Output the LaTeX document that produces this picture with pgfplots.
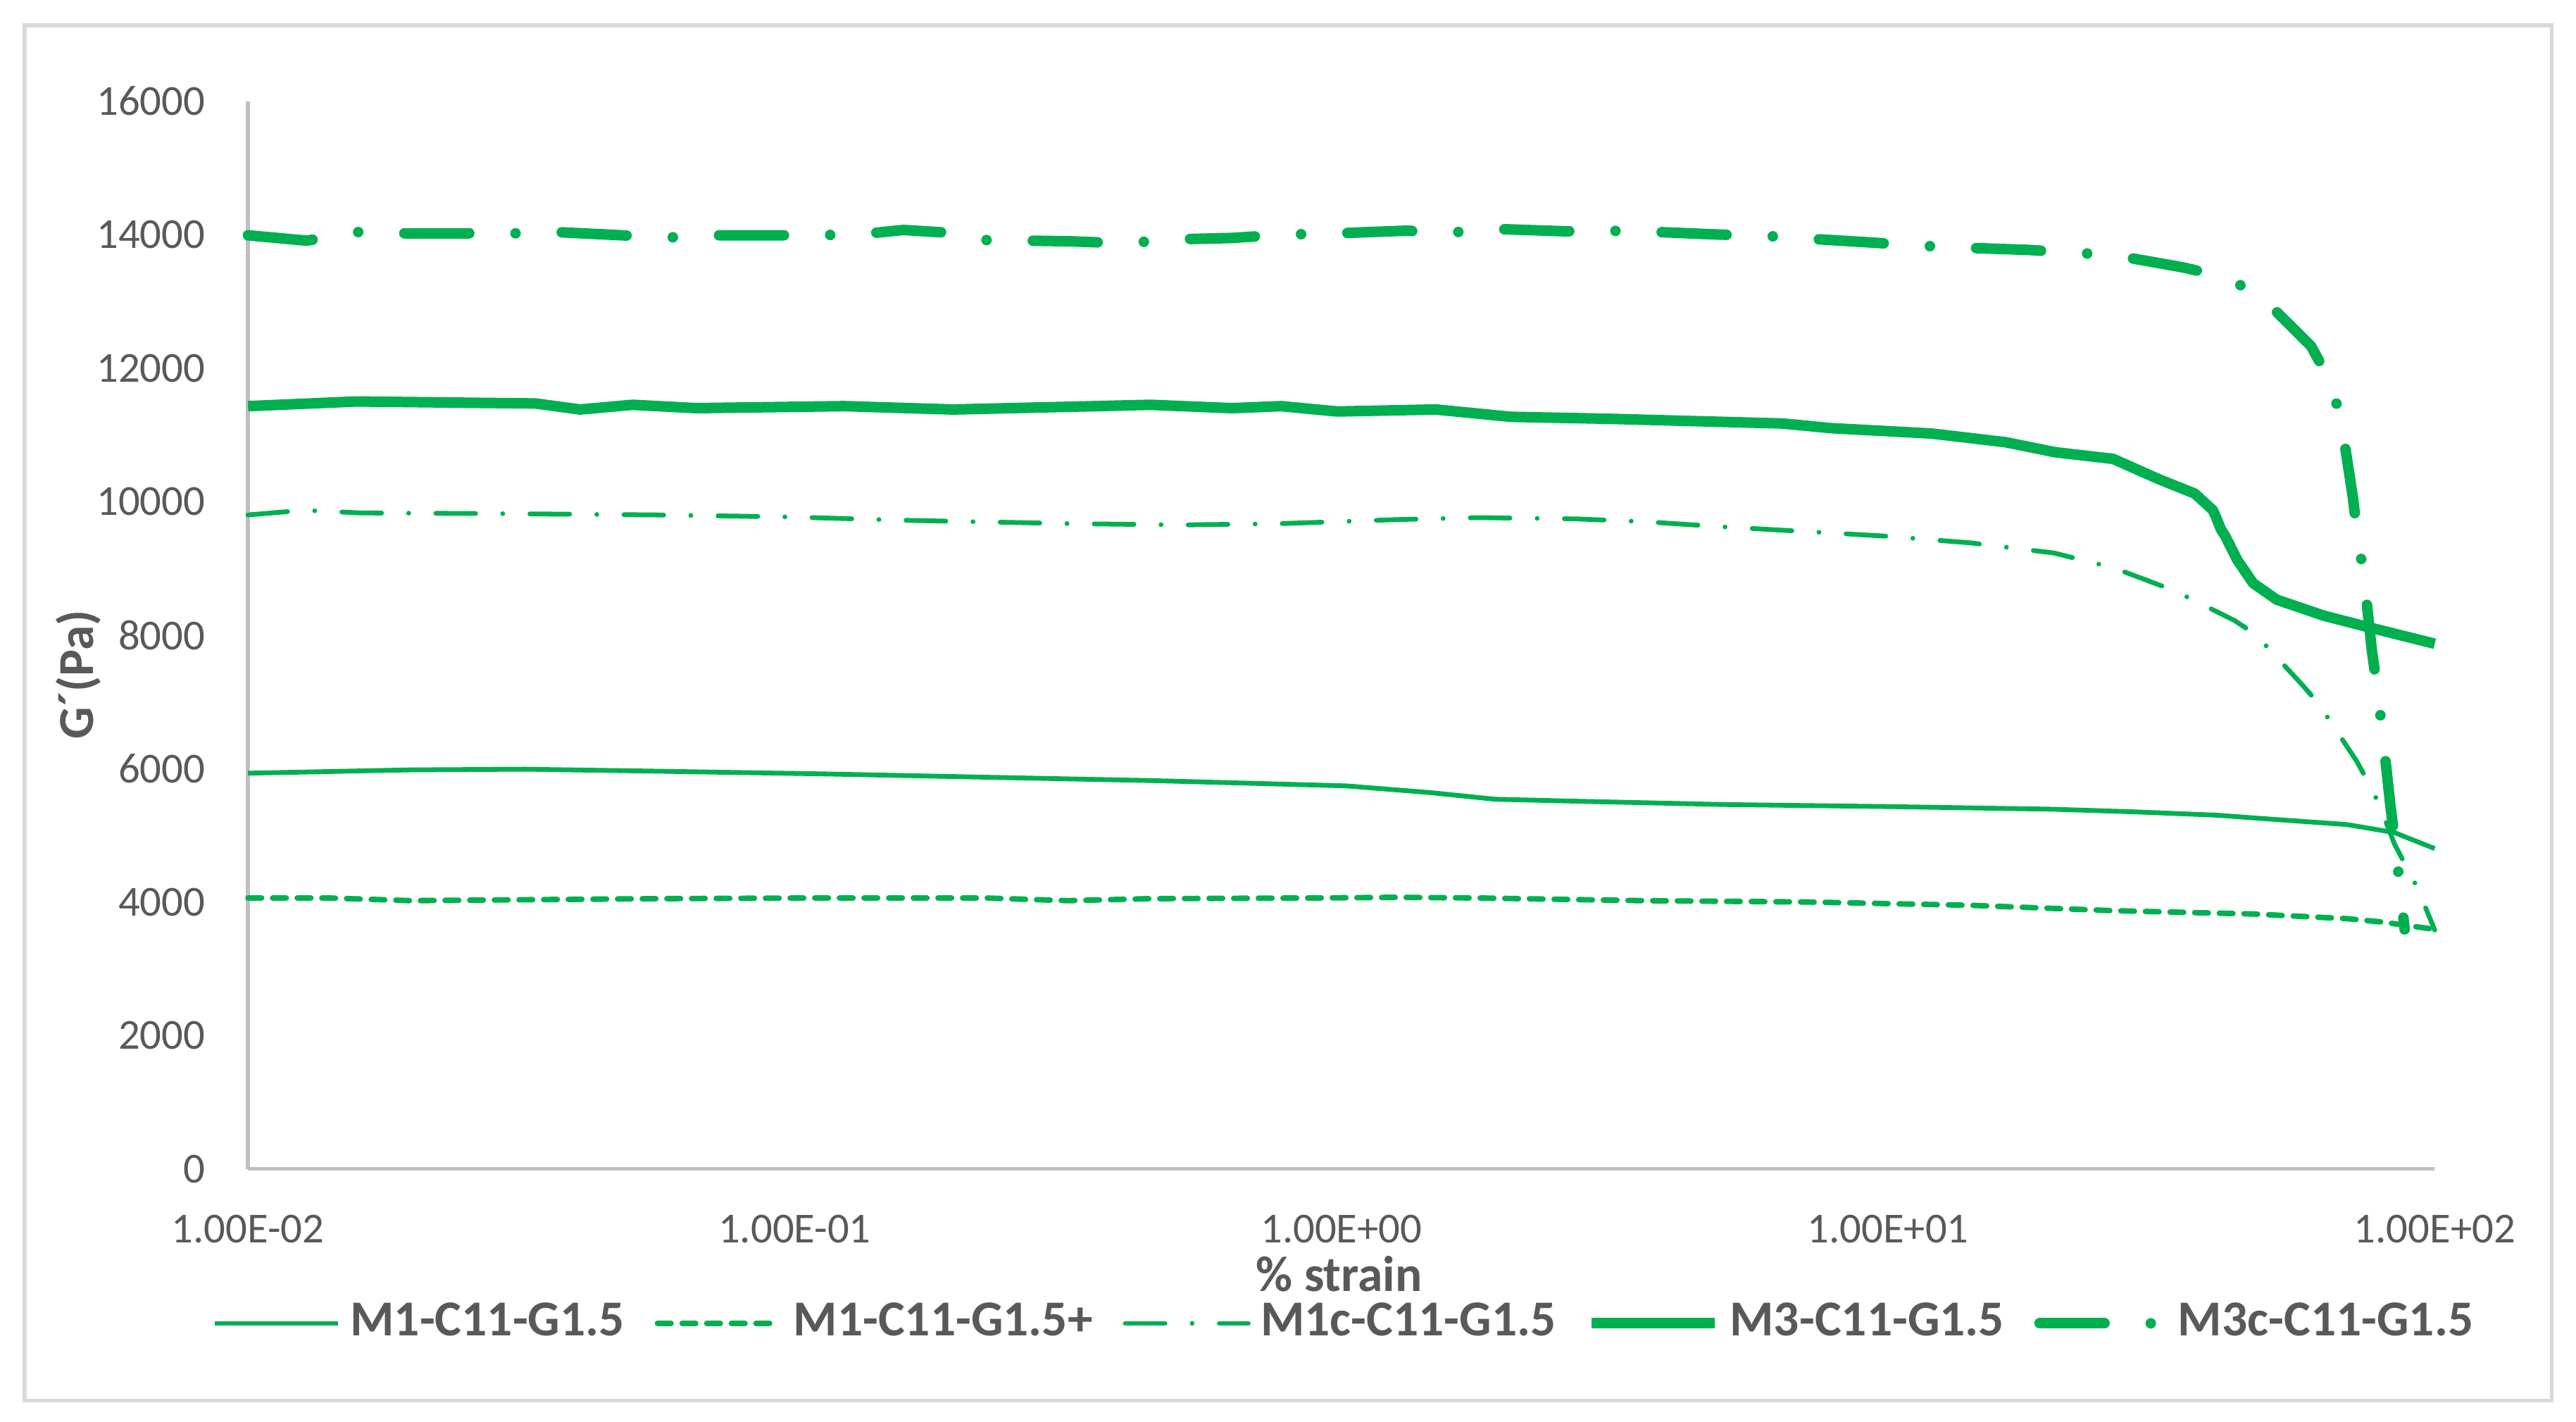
\documentclass[border=0pt]{standalone}
\usepackage{fontspec}
\setmainfont{Carlito}
\usepackage{pgfplots}
\pgfplotsset{compat=1.18}
\definecolor{exgreen}{RGB}{0,176,80}
\definecolor{txtgray}{RGB}{89,89,89}
\definecolor{axgray}{RGB}{191,191,191}
\definecolor{framegray}{RGB}{217,217,217}

\begin{document}
\begin{tikzpicture}
\useasboundingbox (0,0) rectangle (18cm,9.935cm);
\draw[framegray, line width=0.75pt] (0.172cm,0.149cm) rectangle (17.83cm,9.758cm);
\begin{axis}[
    at={(1.733cm,1.768cm)}, anchor=south west,
    scale only axis, width=15.28cm, height=7.46cm,
    xmode=log, xmin=0.01, xmax=100,
    ymin=0, ymax=16000,
    axis lines*=left,
    axis line style={axgray, line width=0.75pt},
    major tick length=0pt, minor tick length=0pt,
    xtick={0.01,0.1,1,10,100},
    xticklabels={1.00E-02,1.00E-01,1.00E+00,1.00E+01,1.00E+02},
    ytick={0,2000,...,16000},
    scaled y ticks=false,
    /pgf/number format/1000 sep={},
    /pgf/number format/assume math mode=true,
    tick label style={font=\fontsize{8.5}{10}\selectfont, text=txtgray},
    yticklabel style={xshift=-5pt},
    xticklabel style={yshift=-5.6pt},
    xlabel={\% strain},
    ylabel={G´(Pa)},
    label style={font=\bfseries\fontsize{10}{12}\selectfont, text=txtgray},
    xlabel style={at={(axis description cs:0.499,-0.0985)}, anchor=center},
    ylabel style={at={(axis description cs:-0.0774,0.463)}, anchor=center},
    legend columns=5,
    legend style={at={(axis description cs:0.503,-0.1446)}, anchor=center,
        draw=none, fill=none, font=\bfseries\fontsize{10}{12}\selectfont, text=txtgray,
        /tikz/every even column/.append style={column sep=0.14cm}},
    legend image code/.code={\draw[#1] (0cm,0cm) -- (0.86cm,0cm);},
    clip=false,
    every axis plot/.append style={exgreen, line join=round},
]
% M1-C11-G1.5
\addplot[line width=0.95pt] coordinates {
(0.01,5930) (0.0199,5980) (0.0322,5990) (0.056,5960) (0.112,5920) (0.223,5870)
(0.447,5820) (0.676,5780) (1.02,5740) (1.45,5640) (1.91,5540) (2.70,5510)
(5.03,5460) (10.0,5430) (20.1,5390) (28.4,5350) (40.1,5300) (46.6,5260)
(69.2,5160) (84.4,5040) (100,4800)};
\addlegendentry{M1-C11-G1.5}
% M1-C11-G1.5+
\addplot[line width=1.1pt, line cap=round, dash pattern=on 2.7pt off 2.2pt] coordinates {
(0.01,4060) (0.014,4060) (0.0199,4020) (0.0281,4030) (0.056,4050) (0.112,4060)
(0.223,4060) (0.316,4020) (0.447,4050) (0.894,4060) (1.26,4070) (1.78,4060)
(3.56,4020) (7.11,4000) (14.2,3950) (25.8,3870) (46.6,3820) (69.2,3750)
(80.1,3700) (100,3590)};
\addlegendentry{M1-C11-G1.5+}
% M1c-C11-G1.5
\addplot[line width=0.95pt, line cap=round, dash pattern=on 7.9pt off 5.4pt on 0pt off 5.4pt] coordinates {
(0.01,9800) (0.01265,9870) (0.0161,9830) (0.0281,9820) (0.056,9800) (0.0975,9770)
(0.158,9720) (0.316,9670) (0.513,9650) (0.776,9670) (1.26,9730) (1.78,9760)
(2.70,9740) (3.56,9700) (5.03,9620) (7.11,9550) (10.0,9480) (14.2,9380)
(20.1,9230) (25.8,9010) (30.2,8800) (33.3,8670) (43.0,8220) (47.0,8010)
(57.3,7250) (61.2,6980) (72.0,6110) (75.6,5790) (79.1,5470) (84.4,4870)
(93.0,4210) (100,3580)};
\addlegendentry{M1c-C11-G1.5}
% M3-C11-G1.5
\addplot[line width=2.1pt] coordinates {
(0.01,11430) (0.0158,11500) (0.0336,11470) (0.0405,11380) (0.0505,11450)
(0.0661,11400) (0.1233,11430) (0.195,11380) (0.316,11420) (0.447,11450)
(0.631,11400) (0.776,11430) (0.983,11350) (1.489,11380) (2.042,11270)
(3.10,11240) (6.41,11170) (7.88,11100) (12.0,11020) (16.4,10890) (20.2,10740)
(25.8,10640) (31.4,10330) (36.4,10120) (39.3,9870) (39.8,9770) (40.6,9590)
(41.4,9480) (43.5,9130) (46.5,8780) (51.4,8530) (62.7,8290) (76.3,8110)
(100,7870)};
\addlegendentry{M3-C11-G1.5}
% M3c-C11-G1.5
\addplot[line width=2.1pt, line cap=round, dash pattern=on 12.9pt off 9.2pt on 0pt off 9.2pt] coordinates {
(0.01,13990) (0.0128,13910) (0.014,13960) (0.0162,14050) (0.019,14020)
(0.0265,14020) (0.0313,14020) (0.0364,14040) (0.0512,13980) (0.060,13960)
(0.0705,13990) (0.0987,13990) (0.13,14000) (0.158,14070) (0.19,14030)
(0.22,13920) (0.32,13900) (0.40,13870) (0.5,13930) (0.63,13950) (0.78,14000)
(0.983,14020) (1.319,14060) (1.563,14020) (1.84,14090) (2.57,14050)
(3.01,14060) (3.53,14050) (4.94,14000) (5.78,13990) (6.82,13950) (9.41,13880)
(11.1,13840) (13.2,13810) (18.2,13770) (21.5,13730) (25.6,13700) (34.6,13510)
(40.6,13380) (47.5,13120) (59.4,12330) (64.5,11790) (67.4,11220) (70.8,10080)
(72.2,9500) (74.1,8920) (76.7,7790) (78.5,7190) (80.1,6600) (82.9,5470)
(84.7,4860) (88.1,3590)};
\addlegendentry{M3c-C11-G1.5}
\end{axis}
\end{tikzpicture}
\end{document}
